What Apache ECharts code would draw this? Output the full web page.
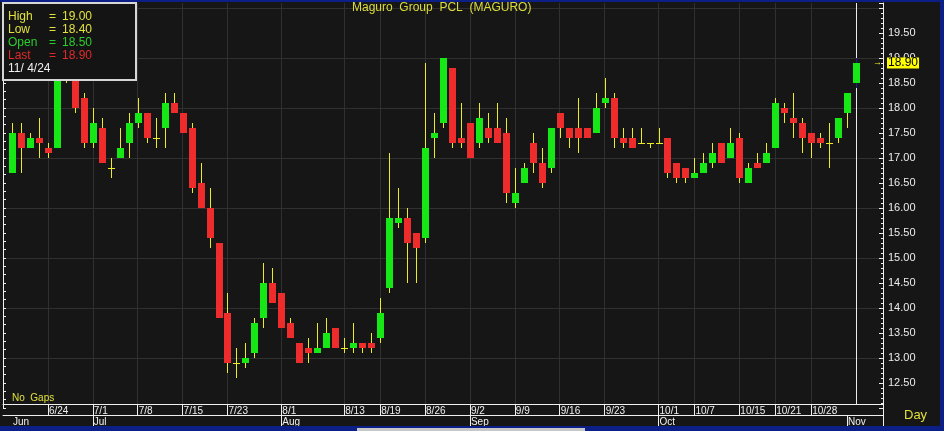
<!DOCTYPE html>
<html>
<head>
<meta charset="utf-8">
<script src="https://cdn.jsdelivr.net/npm/echarts@6/dist/echarts.min.js"></script>
<style>
html,body{margin:0;padding:0;background:#161616;}
#chart{width:944px;height:431px;}
</style>
</head>
<body>
<div id="chart"></div>
<script>
// ---- data ----
const dates = ['6/18','6/19','6/20','6/21',
  '6/24','6/25','6/26','6/27','6/28',
  '7/1','7/2','7/3','7/4','7/5',
  '7/8','7/9','7/10','7/11','7/12',
  '7/15','7/16','7/17','7/18','7/19',
  '7/23','7/24','7/25','7/26','7/30','7/31',
  '8/1','8/2','8/5','8/6','8/7','8/8','8/9',
  '8/13','8/14','8/15','8/16',
  '8/19','8/20','8/21','8/22','8/23',
  '8/26','8/27','8/28','8/29','8/30',
  '9/2','9/3','9/4','9/5','9/6',
  '9/9','9/10','9/11','9/12','9/13',
  '9/16','9/17','9/18','9/19','9/20',
  '9/23','9/24','9/25','9/26','9/27','9/30',
  '10/1','10/2','10/3','10/4',
  '10/7','10/8','10/9','10/10','10/11',
  '10/15','10/16','10/17','10/18',
  '10/21','10/22','10/24','10/25',
  '10/28','10/29','10/30','10/31',
  '11/1','11/4'];
const opens = [16.7,17.5,17.2,17.4, 17.2,17.2,18.8,18.7,18.2, 17.3,17.6,16.8,17.0,17.3,
  17.7,17.9,17.4,17.6,18.1, 17.9,17.6,16.5,16.0,15.3, 13.9,12.9,12.9,13.1,13.8,14.5,
  14.3,13.7,13.3,13.2,13.1,13.2,13.6, 13.2,13.2,13.3,13.3, 13.4,14.4,15.7,15.8,15.5,
  15.4,17.4,17.7,18.8,17.4, 17.7,17.3,17.6,17.6,17.5, 16.1,16.5,17.3,16.9,16.8,
  17.9,17.6,17.6,17.6,17.5, 18.1,18.2,17.4,17.4,17.3,17.3, 17.3,17.4,16.9,16.8,
  16.6,16.7,16.9,17.3,17.0, 17.4,16.5,16.9,16.9, 17.2,18.0,17.8,17.7, 17.5,17.4,17.3,17.4, 17.9,18.5];
const closes = [17.5,17.2,17.4,17.3, 17.1,18.7,18.8,18.0,17.3, 17.7,16.9,16.8,17.2,17.7,
  17.9,17.4,17.4,18.1,17.9, 17.5,16.4,16.0,15.4,13.8, 12.9,12.9,13.0,13.7,14.5,14.1,
  13.6,13.4,12.9,13.1,13.2,13.5,13.2, 13.2,13.3,13.2,13.2, 13.9,15.8,15.8,15.3,15.2,
  17.2,17.5,19.0,17.3,17.3, 17.0,17.8,17.4,17.3,16.3, 16.3,16.8,16.9,16.5,17.6,
  17.6,17.4,17.4,17.4,18.0, 18.2,17.4,17.3,17.2,17.3,17.3, 17.3,16.7,16.6,16.6,
  16.7,16.9,17.1,16.9,17.3, 16.6,16.8,16.8,17.1, 18.1,17.9,17.7,17.4, 17.3,17.3,17.3,17.8, 18.3,18.9];
const lows = [16.7,16.7,17.2,17.0, 17.0,17.2,18.5,17.9,17.2, 17.2,16.9,16.6,17.0,17.0,
  17.6,17.3,17.2,17.2,17.9, 17.5,16.3,16.0,15.2,13.8, 12.7,12.6,12.8,13.0,13.6,14.1,
  13.6,13.4,12.9,12.9,13.1,13.2,13.2, 13.1,13.1,13.1,13.1, 13.3,14.3,15.6,14.5,14.5,
  15.3,17.0,17.6,17.2,17.2, 17.0,17.2,17.3,17.3,16.1, 16.0,16.5,16.7,16.4,16.7,
  17.4,17.2,17.1,17.4,17.5, 18.0,17.2,17.2,17.2,17.3,17.2, 17.3,16.6,16.5,16.5,
  16.6,16.7,16.8,16.9,17.0, 16.5,16.5,16.8,16.9, 17.2,17.7,17.4,17.1, 17.0,17.2,16.8,17.3, 17.6,18.4];
const highs = [17.7,17.7,17.5,17.8, 17.3,18.7,19.0,18.8,18.3, 18.0,17.8,17.0,17.6,17.9,
  18.2,17.9,17.8,18.3,18.3, 17.9,17.7,16.9,16.4,15.3, 14.3,13.2,13.3,13.8,14.9,14.8,
  14.3,13.8,13.3,13.4,13.7,13.8,13.6, 13.4,13.7,13.3,13.5, 14.2,17.1,16.4,16.0,15.5,
  18.9,17.9,19.0,18.8,18.1, 17.7,18.1,17.9,18.1,17.8, 16.8,16.9,17.5,17.2,17.6,
  17.9,17.6,18.2,17.6,18.3, 18.6,18.3,17.6,17.6,17.6,17.3, 17.6,17.4,16.9,16.8,
  17.0,17.1,17.3,17.3,17.6, 17.5,16.9,17.1,17.3, 18.2,18.1,18.3,17.8, 17.5,17.5,17.7,17.8, 18.3,19.0];
const weekTicks = ['6/24','7/1','7/8','7/15','7/23','8/1','8/13','8/19','8/26','9/2','9/9','9/16','9/23','10/1','10/7','10/15','10/21','10/28'];
const monthStarts = ['6/18','7/1','8/1','9/2','10/1','11/1'];
const monthNames = ['Jun','Jul','Aug','Sep','Oct','Nov'];
const priceTicks = [12.5, 19.5]; // first and last labelled price

// ---- build ----
const cats = [' '].concat(dates, ['  ', '   ', '    ']);
const candleData = dates.map((d, i) => [i + 1, opens[i], closes[i], lows[i], highs[i]]);
const FONT = '"Liberation Sans", Arial, sans-serif';
const GREEN = '#16e816', RED = '#ee2c2c', YEL = '#ecec22', GRID = '#303030';
const AXIS_ROW_OFFSET = -4;

function renderItem(params, api) {
  const i = api.value(0);
  const o = api.value(1), c = api.value(2), l = api.value(3), h = api.value(4);
  const pH = api.coord([i, h]), pL = api.coord([i, l]);
  const pO = api.coord([i, o]), pC = api.coord([i, c]);
  const w = Math.round(api.size([1, 0])[0] * 0.78);
  const X = Math.round(pH[0]);
  const x = X + 0.5;
  const last = params.dataIndex === dates.length - 1;
  const children = [];
  if (last) {
    const cs = params.coordSys;
    children.push({type: 'line', shape: {x1: x, y1: cs.y, x2: x, y2: cs.y + cs.height + AXIS_ROW_OFFSET},
      style: {stroke: '#ececec', lineWidth: 1}});
  }
  children.push({type: 'line', shape: {x1: x, y1: Math.round(pH[1]), x2: x, y2: Math.round(pL[1])},
    style: {stroke: last ? '#20208c' : YEL, lineWidth: 1}});
  const half = (w - 1) / 2;
  if (o === c) {
    const y = Math.round(pO[1]) + 0.5;
    children.push({type: 'line', shape: {x1: X - half, y1: y, x2: X + half + 1, y2: y},
      style: {stroke: YEL, lineWidth: 1}});
  } else {
    const top = Math.round(Math.min(pO[1], pC[1]));
    const bot = Math.round(Math.max(pO[1], pC[1]));
    children.push({type: 'rect', shape: {x: X - half, y: top, width: w, height: Math.max(1, bot - top)},
      style: {fill: c > o ? GREEN : RED}});
  }
  return {type: 'group', children};
}

const chart = echarts.init(document.getElementById('chart'), null, {renderer: 'canvas'});
const lastI = dates.length - 1;
const infoRows = [
  ['High', highs[lastI], '#e2e23c'],
  ['Low', lows[lastI], '#e2e23c'],
  ['Open', opens[lastI], '#2ccc2c'],
  ['Last', closes[lastI], '#e02a2a']
];
const infoY = [16.5, 29.5, 42.5, 55.5];
const infoGraphics = [{type: 'rect', shape: {x: 3, y: 3, width: 133, height: 77},
  style: {fill: '#141414', stroke: '#d6d6d6', lineWidth: 2}, z: 100}];
infoRows.forEach((r, k) => {
  const st = {font: '12px ' + FONT, fill: r[2], textVerticalAlign: 'middle'};
  infoGraphics.push({type: 'text', x: 8, y: infoY[k], style: Object.assign({text: r[0]}, st), z: 101});
  infoGraphics.push({type: 'text', x: 49, y: infoY[k], style: Object.assign({text: '='}, st), z: 101});
  infoGraphics.push({type: 'text', x: 62, y: infoY[k], style: Object.assign({text: r[1].toFixed(2)}, st), z: 101});
});
infoGraphics.push({type: 'text', x: 8, y: 68.5, style: {text: '11/ 4/24', font: '12px ' + FONT, fill: '#f0f0f0', textVerticalAlign: 'middle'}, z: 101});

const splitColors = ['rgba(0,0,0,0)', GRID, GRID, GRID, GRID, GRID, GRID, GRID, GRID, 'rgba(0,0,0,0)'];

const baseGraphics = [
  {type: 'rect', shape: {x: 0, y: 0, width: 944, height: 2}, style: {fill: '#0c1f86'}, z: 50},
  {type: 'rect', shape: {x: 940, y: 0, width: 4, height: 431}, style: {fill: '#0c1f86'}, z: 50},
  {type: 'rect', shape: {x: 0, y: 426, width: 944, height: 5}, style: {fill: '#0c1f86'}, z: 50},
  {type: 'rect', shape: {x: 357, y: 428, width: 228, height: 3}, style: {fill: '#c8c8c8'}, z: 51},
  {type: 'line', shape: {x1: 883.5, y1: 404, x2: 883.5, y2: 426}, style: {stroke: '#f0f0f0', lineWidth: 1}, z: 50},
  {type: 'text', x: 12, y: 398, style: {text: 'No  Gaps', font: '10px ' + FONT, fill: '#e0e03c', textVerticalAlign: 'middle'}, z: 50},
  {type: 'text', x: 904, y: 415, style: {text: 'Day', font: '13px ' + FONT, fill: '#e0e03c', textVerticalAlign: 'middle'}, z: 50}
].concat(infoGraphics);

chart.setOption({
  animation: false,
  backgroundColor: '#161616',
  title: {text: 'Maguro  Group  PCL  (MAGURO)', left: 352, top: 2, padding: 0,
    textStyle: {color: '#dcdc3c', fontSize: 12, fontWeight: 'normal', fontFamily: FONT}},
  grid: {left: 3, right: 61, top: 3, bottom: 23, outerBoundsMode: 'none', containLabel: false},
  xAxis: [{
    type: 'category', data: cats, boundaryGap: false, position: 'bottom', offset: AXIS_ROW_OFFSET,
    axisLine: {show: true, lineStyle: {color: '#f0f0f0', width: 1}},
    axisTick: {show: true, length: 11, inside: false, interval: (i, v) => weekTicks.includes(v), lineStyle: {color: '#f0f0f0'}},
    axisLabel: {show: true, interval: (i, v) => weekTicks.includes(v), align: 'left', margin: 2, padding: [0, 0, 0, 1],
      color: '#f0f0f0', fontSize: 10, fontFamily: FONT, formatter: v => v},
    splitLine: {show: true, interval: (i, v) => weekTicks.includes(v), lineStyle: {color: GRID, width: 1}}
  }, {
    type: 'category', data: cats, boundaryGap: false, position: 'bottom', offset: 7,
    axisLine: {show: true, lineStyle: {color: '#f0f0f0', width: 1}},
    axisTick: {show: true, length: 11, inside: false, interval: (i, v) => monthStarts.indexOf(v) > 0, lineStyle: {color: '#f0f0f0'}},
    axisLabel: {show: true, interval: (i, v) => monthStarts.includes(v), align: 'left', margin: 2, padding: [0, 0, 0, 1],
      color: '#f0f0f0', fontSize: 10, fontFamily: FONT, formatter: v => monthNames[monthStarts.indexOf(v)] || ''},
    splitLine: {show: false}
  }],
  yAxis: [{
    type: 'value', position: 'right', min: 12, max: 20.1, interval: 0.5,
    axisLine: {show: true, lineStyle: {color: '#f0f0f0'}},
    axisTick: {show: true, inside: true, length: 4, lineStyle: {color: '#f0f0f0'}},
    minorTick: {show: true, splitNumber: 5, length: 2, lineStyle: {color: '#f0f0f0'}},
    axisLabel: {show: true, margin: 5, color: '#ececec', fontSize: 11, fontFamily: FONT,
      formatter: v => (v >= priceTicks[0] - 1e-6 && v <= priceTicks[1] + 1e-6) ? v.toFixed(2) : ''},
    splitLine: {show: false}
  }, {
    type: 'value', position: 'right', min: 12, max: 20.1, interval: 1,
    axisLine: {show: false}, axisTick: {show: false}, axisLabel: {show: false},
    splitLine: {show: true, lineStyle: {color: splitColors, width: 1}}
  }, {
    type: 'value', position: 'left', min: 0, max: 48.6, interval: 1,
    axisLine: {show: true, lineStyle: {color: '#f0f0f0'}},
    axisTick: {show: true, inside: true, length: 3, lineStyle: {color: '#f0f0f0'}},
    axisLabel: {show: false}, splitLine: {show: false}
  }],
  series: [{
    type: 'custom', name: 'MAGURO', xAxisIndex: 0, yAxisIndex: 0,
    renderItem: renderItem, data: candleData, encode: {x: 0, y: [1, 2, 3, 4]}, z: 3
  }],
  graphic: baseGraphics
});

// current-price marker placed through the axis scale
const edge = chart.convertToPixel({xAxisIndex: 0, yAxisIndex: 0}, [cats.length - 1, closes[lastI]]);
const ex = Math.round(edge[0]), ey = Math.round(edge[1]);
chart.setOption({
  graphic: baseGraphics.concat([
    {type: 'text', x: ex - 10, y: ey, style: {text: '→', font: '9px ' + FONT, fill: '#ecec22', textVerticalAlign: 'middle'}, z: 60},
    {type: 'text', x: ex + 4, y: ey, style: {text: closes[lastI].toFixed(2), font: '12px ' + FONT, fill: '#000',
      backgroundColor: '#ffff00', padding: [1, 1, 0, 1], lineHeight: 10, textVerticalAlign: 'middle'}, z: 60}
  ])
});
</script>
</body>
</html>
